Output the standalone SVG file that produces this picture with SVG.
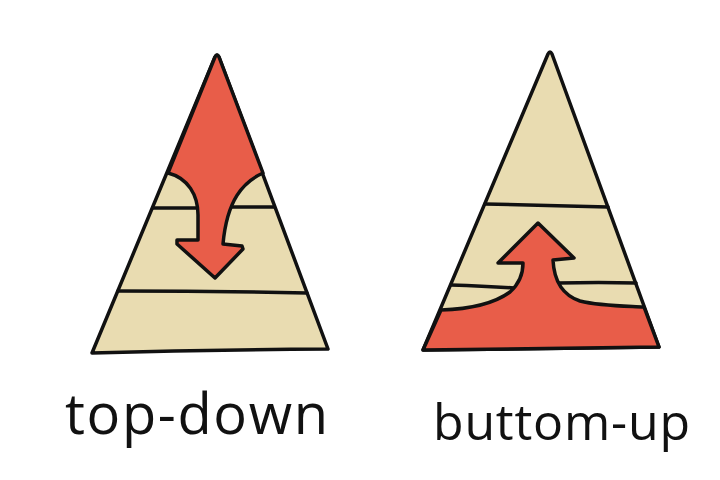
<svg xmlns="http://www.w3.org/2000/svg" width="720" height="480" viewBox="0 0 720 480">
<style>
.tri{fill:#E9DCB1;stroke:#111;stroke-width:3.5;stroke-linejoin:round}
.red{fill:#E85D49;stroke:#111;stroke-width:3.5;stroke-linejoin:round}
.ln{fill:none;stroke:#111;stroke-width:3.5;stroke-linecap:round}
.lbl{font-family:"Open Sans","Noto Sans",sans-serif;font-weight:400;fill:#111}
</style>
<rect width="720" height="480" fill="#fff"/>
<g id="top-down-pyramid">
<path class="tri" d="M215,57 Q217,53 219,57 L328,349 Q210,350 92,353 Z"/>
<path class="ln" d="M153,208 L198,208 M225,207 L274,207"/>
<path class="ln" d="M118,291 Q210,291 307,293"/>
<path class="red" d="M215,57 Q217,53 219,57 L263,173 C243,182 227,200 223,244 L242,246 L243,249 L215,278 L177,244 L177,240 L198,240 L198,215 C198,195 188,178 168,173 Z"/>
</g>
<g id="bottom-up-pyramid">
<path class="tri" d="M548,54 Q550,50 552,54 L659,347 Q540,349 423,350 Z"/>
<path class="ln" d="M485,204 Q545,205 608,207"/>
<path class="ln" d="M451,285 Q485,286 514,288 M558,283 Q600,282 636,283"/>
<path class="red" d="M441,310 C470,309 495,303 510,292 C520,283 523,273 523,263 L498,263 L538,223 L574,258 L553,260 C554,280 562,295 580,301 C600,306 625,306 644,307 L659,347 Q540,349 423,350 Z"/>
</g>
<g id="label-top-down">
<text class="lbl" x="65" y="434" font-size="56" textLength="263" lengthAdjust="spacing">top-down</text>
</g>
<g id="label-bottom-up">
<text class="lbl" x="433" y="440" font-size="50" textLength="257" lengthAdjust="spacing">buttom-up</text>
</g>
</svg>
